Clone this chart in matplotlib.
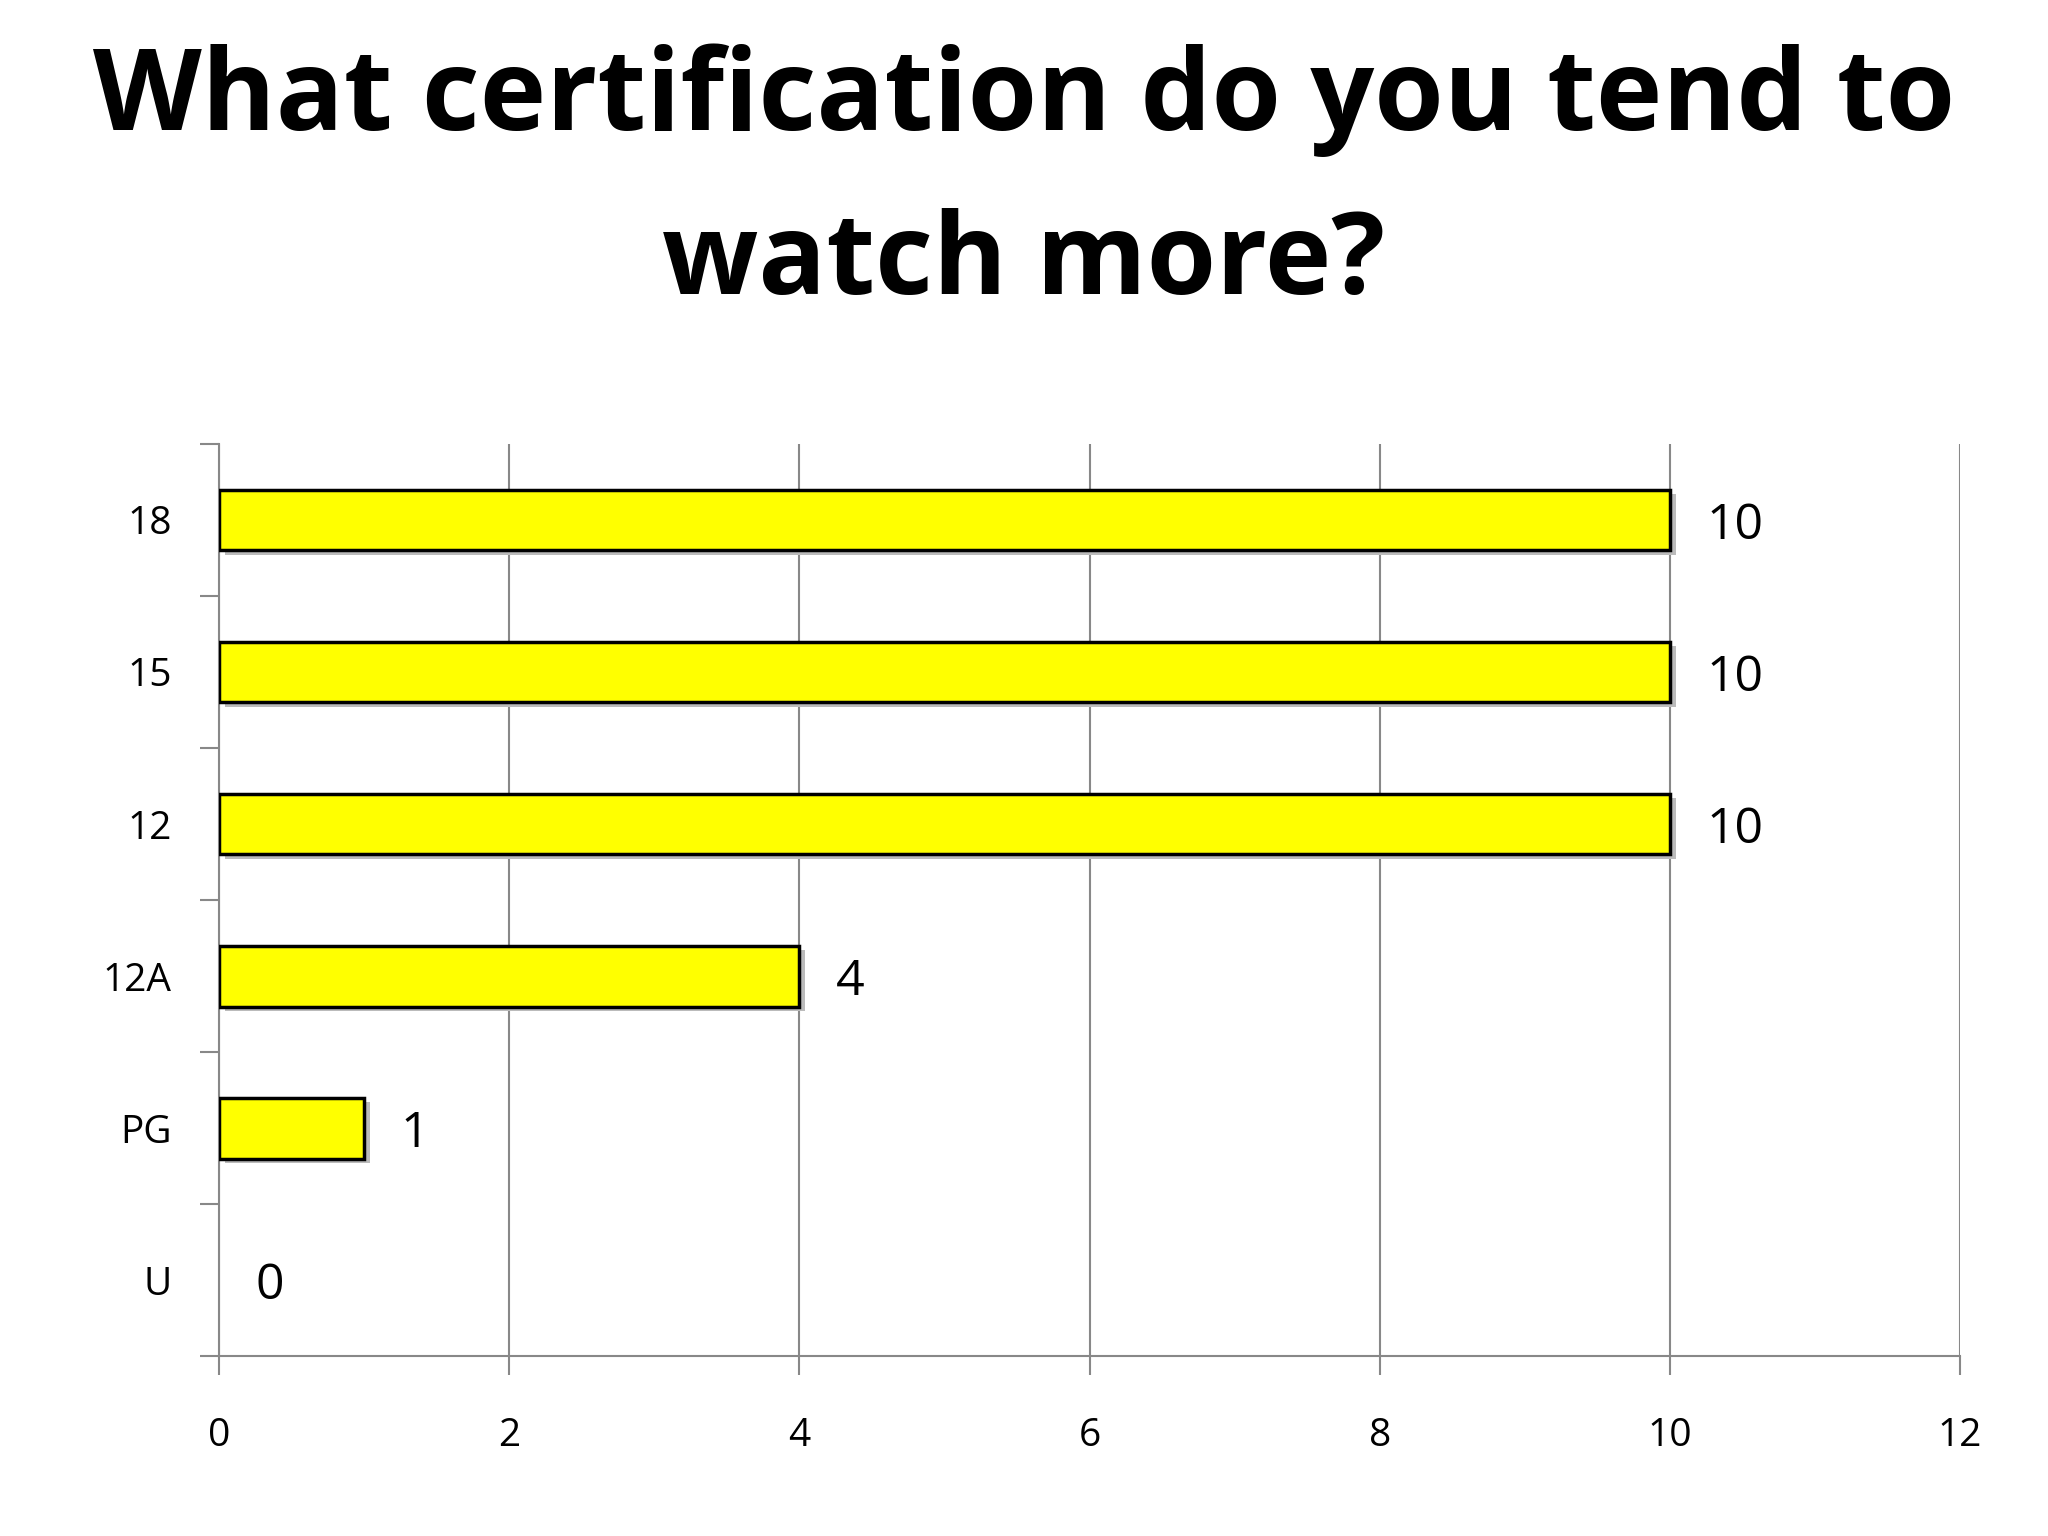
import matplotlib
matplotlib.use("Agg")
import matplotlib.pyplot as plt
import numpy as np

categories = ["U", "PG", "12A", "12", "15", "18"]
values = [0, 1, 4, 10, 10, 10]
xticks = [0, 2, 4, 6, 8, 10, 12]

plt.rcParams['font.family'] = ['Open Sans', 'DejaVu Sans']
fig = plt.figure(figsize=(20.48, 15.36), dpi=100)
ax = fig.add_axes([0.107, 0.117, 0.850, 0.594])
y = np.arange(len(categories))
vals = np.array(values, dtype=float)
mask = vals > 0
# shadow
ax.barh(y[mask] - 0.03, vals[mask], height=0.4, left=0.04, color='#bbbbbb', zorder=2)
ax.barh(y[mask], vals[mask], height=0.4, color='#ffff00', edgecolor='black', linewidth=2.5, zorder=3)
for yi, v in zip(y, values):
    ax.text(v + 0.25, yi - 0.04, str(v), va='center', ha='left', fontsize=36, zorder=4)
ax.set_xlim(0, 12)
ax.set_ylim(-0.5, len(categories) - 0.5)
ax.set_xticks(xticks)
ax.set_xticklabels([str(t) for t in xticks], fontsize=28)
ax.set_yticks(y)
ax.set_yticklabels(categories, fontsize=28)
ax.tick_params(axis='y', length=0, pad=34)
ax.set_yticks(np.arange(-0.5, len(categories), 1), minor=True)
ax.tick_params(axis='y', which='minor', length=14, color='#888888', width=1.5)
ax.tick_params(axis='x', length=14, color='#888888', width=1.5, pad=30)
ax.grid(axis='x', color='#888888', linewidth=1.5, zorder=0)
for s in ['top', 'right']:
    ax.spines[s].set_visible(False)
for s in ['left', 'bottom']:
    ax.spines[s].set_color('#888888')
    ax.spines[s].set_linewidth(1.5)
fig.text(0.5, 0.935, "What certification do you tend to", ha='center', va='center',
         fontsize=81, fontweight='bold')
fig.text(0.5, 0.828, "watch more?", ha='center', va='center',
         fontsize=81, fontweight='bold')
fig.savefig("out.png", dpi=100)
